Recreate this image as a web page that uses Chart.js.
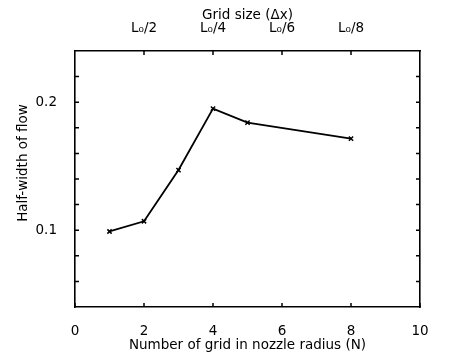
<!DOCTYPE html>
<html>
<head>
<meta charset="utf-8">
<script src="https://cdn.jsdelivr.net/npm/chart.js@4.4.0/dist/chart.umd.min.js"></script>
<style>
  html, body { margin:0; padding:0; background:#fff; }
  canvas { display:block; }
</style>
</head>
<body>
<canvas id="chart" width="474" height="363"></canvas>
<script>
// datos
const gridN      = [1, 2, 3, 4, 5, 8];
const halfWidth  = [0.099, 0.107, 0.147, 0.195, 0.184, 0.1715];

const xTicks     = [0, 2, 4, 6, 8, 10];
const topTicks   = [2, 4, 6, 8];
const topLabels  = ['L₀/2', 'L₀/4', 'L₀/6', 'L₀/8'];
const yTicks     = [0.06, 0.08, 0.1, 0.12, 0.14, 0.16, 0.18, 0.2, 0.22];
const yLabels    = { '0.1': '0.1', '0.2': '0.2' };
const yTitle     = 'Half-width of flow';

const FONT = "'DejaVu Sans', 'Liberation Sans', Arial, sans-serif";
const font = { family: FONT, size: 13.5 };

// fuerza ticks concretos
const setTicks = vals => scale => { scale.ticks = vals.map(v => ({ value: v })); };
const fixSize = (w, h) => scale => { if (w != null) scale.width = w; if (h != null) scale.height = h; };

// marcas de tick hacia dentro + título del eje y (algo por encima del centro, como en el original)
const innerTicks = {
  id: 'innerTicks',
  afterDraw(chart) {
    const { ctx, chartArea: a, scales } = chart;
    const L = 4;
    ctx.save();
    ctx.strokeStyle = '#000';
    ctx.lineWidth = 1.5;
    ctx.beginPath();
    scales.x.ticks.forEach(t => {
      const px = scales.x.getPixelForValue(t.value);
      ctx.moveTo(px, a.bottom); ctx.lineTo(px, a.bottom - L);
    });
    scales.xTop.ticks.forEach(t => {
      const px = scales.xTop.getPixelForValue(t.value);
      ctx.moveTo(px, a.top); ctx.lineTo(px, a.top + L);
    });
    scales.y.ticks.forEach(t => {
      const py = scales.y.getPixelForValue(t.value);
      ctx.moveTo(a.left, py); ctx.lineTo(a.left + L, py);
      ctx.moveTo(a.right, py); ctx.lineTo(a.right - L, py);
    });
    ctx.stroke();

    ctx.translate(23, (a.top + a.bottom) / 2 - 16);
    ctx.rotate(-Math.PI / 2);
    ctx.fillStyle = '#000';
    ctx.font = `${font.size}px ${FONT}`;
    ctx.textAlign = 'center';
    ctx.textBaseline = 'middle';
    ctx.fillText(yTitle, 0, 0);
    ctx.restore();
  }
};

const border = { display: true, color: '#000', width: 1.6 };

new Chart(document.getElementById('chart'), {
  type: 'line',
  data: {
    datasets: [{
      data: gridN.map((n, i) => ({ x: n, y: halfWidth[i] })),
      borderColor: '#000',
      borderWidth: 1.8,
      tension: 0,
      pointStyle: 'crossRot',
      pointRadius: 3,
      pointBorderWidth: 1.5,
      pointBorderColor: '#000',
      fill: false
    }]
  },
  options: {
    responsive: false,
    animation: false,
    layout: { padding: 0 },
    plugins: { legend: { display: false }, tooltip: { enabled: false } },
    scales: {
      x: {
        type: 'linear', position: 'bottom', min: 0, max: 10,
        grid: { display: false }, border,
        afterBuildTicks: setTicks(xTicks),
        afterFit: fixSize(null, 56),
        ticks: { color: '#000', font, padding: 8, maxRotation: 0 },
        title: { display: true, text: 'Number of grid in nozzle radius (N)', color: '#000', font, padding: { top: 0, bottom: 9 } }
      },
      xTop: {
        type: 'linear', position: 'top', min: 0, max: 10,
        grid: { display: false }, border,
        afterBuildTicks: setTicks(topTicks),
        afterFit: fixSize(null, 51),
        ticks: { color: '#000', font, padding: 6, maxRotation: 0,
                 callback: v => topLabels[topTicks.indexOf(v)] ?? '' },
        title: { display: true, text: 'Grid size (Δx)', color: '#000', font, padding: { top: 7, bottom: 0 } }
      },
      y: {
        type: 'linear', position: 'left', min: 0.04, max: 0.24,
        grid: { display: false }, border,
        afterBuildTicks: setTicks(yTicks),
        afterFit: fixSize(75, null),
        ticks: { color: '#000', font, padding: 10,
                 callback: v => yLabels[String(+v.toFixed(2))] ?? '' }
      },
      y2: {
        type: 'linear', position: 'right', min: 0.04, max: 0.24,
        grid: { display: false }, border,
        afterFit: fixSize(54, null),
        ticks: { display: false }
      }
    }
  },
  plugins: [innerTicks]
});
</script>
</body>
</html>
